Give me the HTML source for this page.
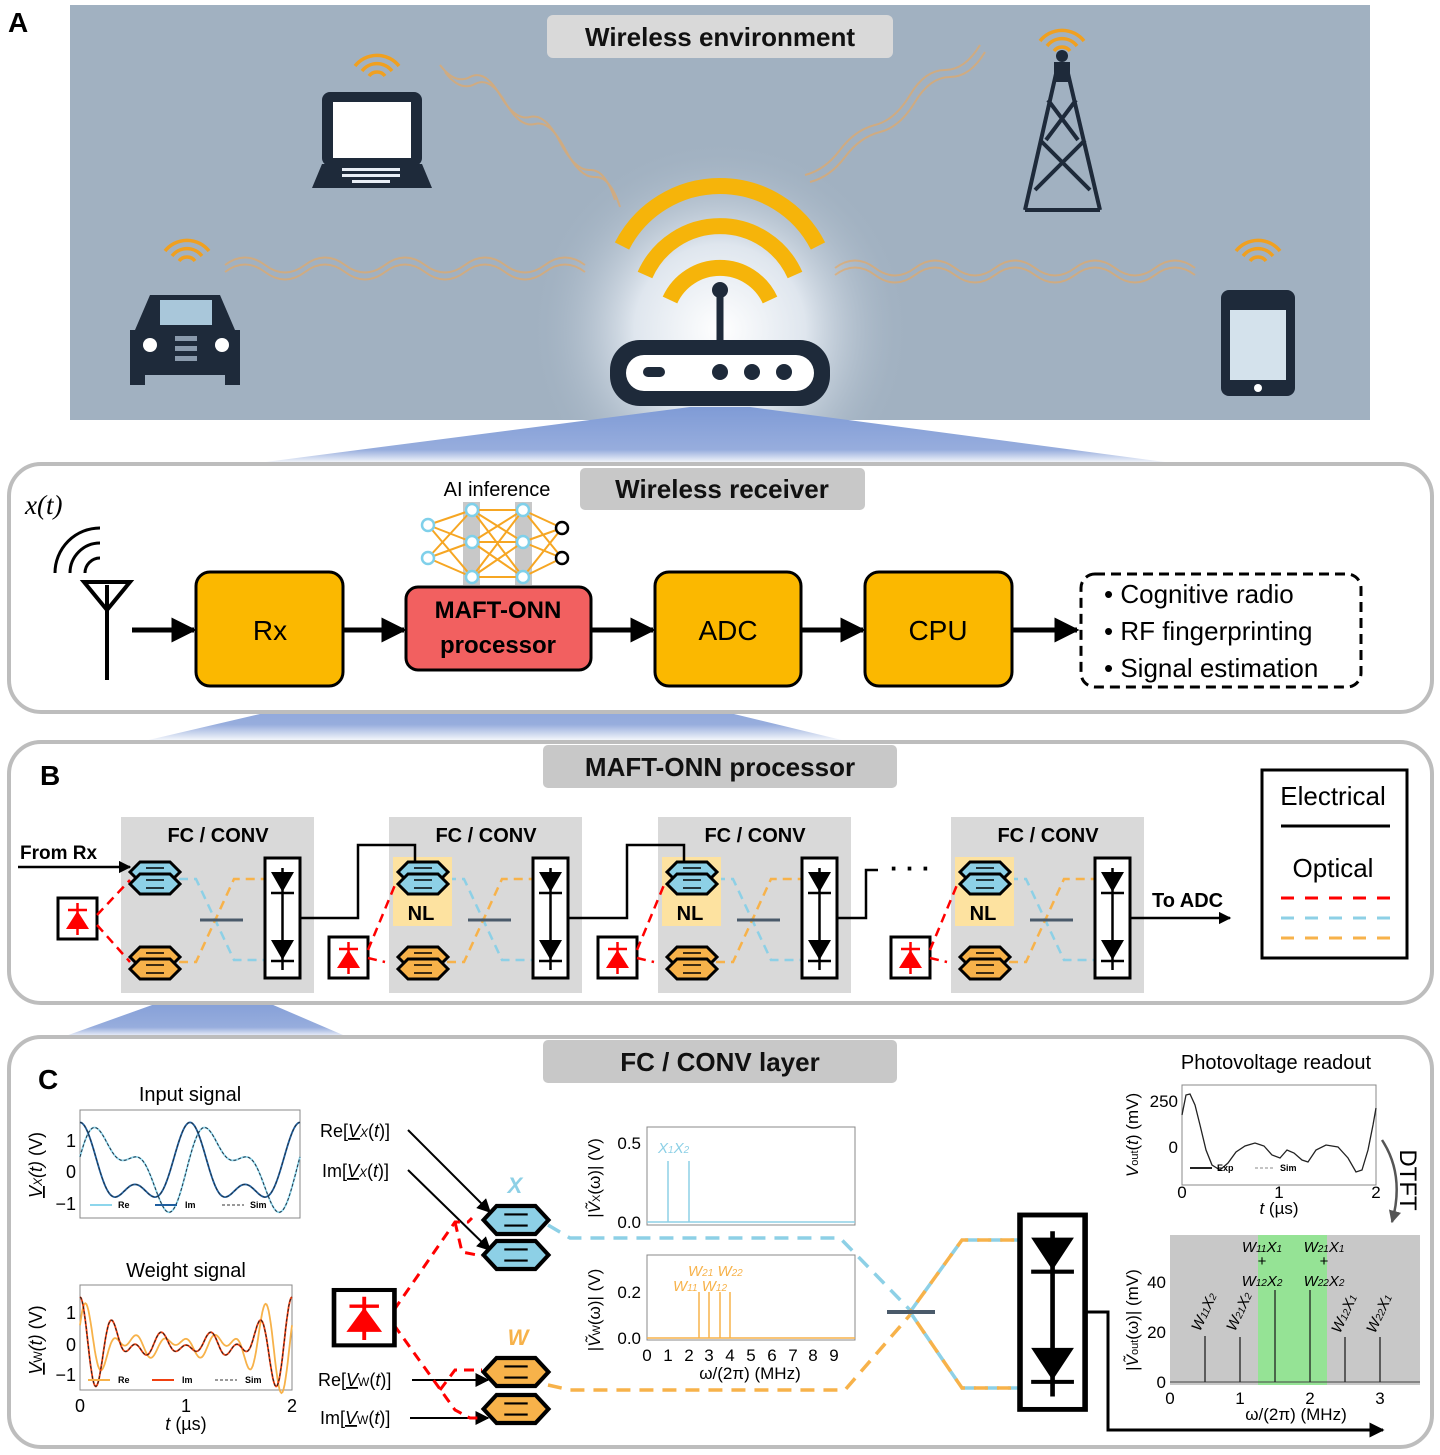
<!DOCTYPE html>
<html><head><meta charset="utf-8"><style>
html,body{margin:0;padding:0;background:#fff;}
svg{display:block;font-family:"Liberation Sans",sans-serif;}
</style></head><body>
<svg id="s" width="1440" height="1455" viewBox="0 0 1440 1455" xmlns="http://www.w3.org/2000/svg">
<defs>
<radialGradient id="glow" cx="720" cy="330" r="190" gradientUnits="userSpaceOnUse">
<stop offset="0" stop-color="#ffffff"/><stop offset="0.45" stop-color="#dfe6ee"/><stop offset="1" stop-color="#a1b1c1" stop-opacity="0"/></radialGradient>
<linearGradient id="tz" x1="0" y1="0" x2="0" y2="1"><stop offset="0" stop-color="#7f9bd6"/><stop offset="0.75" stop-color="#97addd"/><stop offset="1" stop-color="#ffffff"/></linearGradient>
<marker id="ar" viewBox="0 0 10 10" refX="9" refY="5" markerWidth="5" markerHeight="5" orient="auto"><path d="M0,0 L10,5 L0,10 z" fill="#000"/></marker>
<marker id="ars" viewBox="0 0 10 10" refX="9" refY="5" markerWidth="7" markerHeight="7" orient="auto"><path d="M0,0 L10,5 L0,10 z" fill="#000"/></marker>
<marker id="arg" viewBox="0 0 10 10" refX="9" refY="5" markerWidth="5" markerHeight="5" orient="auto"><path d="M0,0 L10,5 L0,10 z" fill="#555"/></marker>
<g id="hb"><polygon points="-25,0 -15,-10 15,-10 25,0 15,10 -15,10" fill="#8dd0e6" stroke="#000" stroke-width="3"/><line x1="-9" y1="-4" x2="9" y2="-4" stroke="#000" stroke-width="1.5"/><line x1="-9" y1="4" x2="9" y2="4" stroke="#000" stroke-width="1.5"/></g>
<g id="ho"><polygon points="-25,0 -15,-10 15,-10 25,0 15,10 -15,10" fill="#f7b24a" stroke="#000" stroke-width="3"/><line x1="-9" y1="-4" x2="9" y2="-4" stroke="#000" stroke-width="1.5"/><line x1="-9" y1="4" x2="9" y2="4" stroke="#000" stroke-width="1.5"/></g>
<g id="diode"><rect x="0" y="0" width="39" height="41" fill="#fff" stroke="#000" stroke-width="3"/><line x1="19.5" y1="5" x2="19.5" y2="37" stroke="#f00" stroke-width="2.5"/><line x1="10" y1="12" x2="29" y2="12" stroke="#f00" stroke-width="2.5"/><polygon points="19.5,13 8,31 31,31" fill="#f00"/></g>
<g id="det"><rect x="0" y="0" width="35" height="120" fill="#fff" stroke="#000" stroke-width="3"/><line x1="17.5" y1="10" x2="17.5" y2="112" stroke="#000" stroke-width="2.5"/><polygon points="6,14 29,14 17.5,34" fill="#000"/><line x1="6" y1="35" x2="29" y2="35" stroke="#000" stroke-width="2.5"/><polygon points="6,82 29,82 17.5,102" fill="#000"/><line x1="6" y1="103" x2="29" y2="103" stroke="#000" stroke-width="2.5"/></g>
<g id="layer">
<rect x="0" y="817" width="193" height="176" fill="#d9d9d9"/>
<text x="97" y="842" font-size="20" font-weight="bold" text-anchor="middle">FC / CONV</text>
<path d="M58,879 L75,879 L113,960 L144,960" fill="none" stroke="#8dd0e6" stroke-width="2.5" stroke-dasharray="9,6"/>
<path d="M58,962 L75,962 L113,879 L144,879" fill="none" stroke="#f7b24a" stroke-width="2.5" stroke-dasharray="9,6"/>
<line x1="79" y1="920" x2="122" y2="920" stroke="#4a5a6a" stroke-width="3"/>
<use href="#hb" x="34" y="872"/><use href="#hb" x="34" y="884"/>
<use href="#ho" x="34" y="957"/><use href="#ho" x="34" y="969"/>
<use href="#det" x="144" y="858"/>
</g>
<g id="nl"><rect x="4" y="857" width="59" height="69" fill="#fde2a0"/></g>
<g id="wifi" fill="none" stroke="#f0a020" stroke-width="3.5"><path d="M-8,-4 A10,10 0 0 1 8,-4"/><path d="M-15,-9 A19,19 0 0 1 15,-9"/><path d="M-22,-14 A28,28 0 0 1 22,-14"/></g>
</defs>

<!-- PANEL A top image -->
<rect x="70" y="5" width="1300" height="415" fill="#a1b1c1"/>
<rect x="70" y="5" width="1300" height="415" fill="url(#glow)"/>
<g fill="none" stroke="#e8a860" stroke-width="2" opacity="0.65">
<path d="M440,65 q15,20 30,12 t30,18 t30,22 t30,25 t30,28 t25,30"/>
<path d="M445,72 q15,20 30,12 t30,18 t30,22 t30,25 t30,28 t25,30"/>
<path d="M805,175 q20,-5 35,-25 t35,-25 t35,-30 t35,-25 t35,-25"/>
<path d="M810,182 q20,-5 35,-25 t35,-25 t35,-30 t35,-25 t35,-25"/>
<path d="M225,265 q20,-15 40,0 t40,0 t40,0 t40,0 t40,0 t40,0 t40,0 t40,0 t40,0"/>
<path d="M225,272 q20,-15 40,0 t40,0 t40,0 t40,0 t40,0 t40,0 t40,0 t40,0 t40,0"/>
<path d="M835,268 q20,-15 40,0 t40,0 t40,0 t40,0 t40,0 t40,0 t40,0 t40,0 t40,0"/>
<path d="M835,275 q20,-15 40,0 t40,0 t40,0 t40,0 t40,0 t40,0 t40,0 t40,0 t40,0"/>
</g>
<rect x="547" y="15" width="346" height="43" rx="6" fill="#d9d9d9"/>
<text x="720" y="46" font-size="26" font-weight="bold" text-anchor="middle" fill="#111">Wireless environment</text>
<!-- laptop -->
<use href="#wifi" x="377" y="80"/>
<rect x="322" y="92" width="100" height="74" rx="8" fill="#1e2a3a"/>
<rect x="333" y="102" width="78" height="56" fill="#fff"/>
<path d="M322,164 L422,164 L432,188 L312,188 Z" fill="#1e2a3a"/>
<rect x="342" y="168" width="58" height="3" fill="#e8eef5"/><rect x="342" y="174" width="58" height="3" fill="#e8eef5"/><rect x="352" y="180" width="38" height="3" fill="#e8eef5"/>
<!-- tower -->
<use href="#wifi" x="1062" y="55"/>
<circle cx="1062" cy="56" r="6" fill="#1e2a3a"/>
<g stroke="#1e2a3a" stroke-width="4" fill="none"><path d="M1058,65 L1025,210 M1066,65 L1100,210 M1040,140 L1090,190 M1085,140 L1035,190 M1048,100 L1078,140 M1076,100 L1046,140 M1025,210 L1100,210"/></g>
<rect x="1054" y="62" width="16" height="20" fill="#1e2a3a"/>
<!-- car -->
<use href="#wifi" x="187" y="265"/>
<path d="M150,295 L220,295 L235,330 L240,330 L240,385 L225,385 L225,375 L145,375 L145,385 L130,385 L130,330 L135,330 Z" fill="#1e2a3a"/>
<rect x="160" y="300" width="52" height="25" fill="#a9c7da"/>
<circle cx="150" cy="345" r="7" fill="#fff"/><circle cx="222" cy="345" r="7" fill="#fff"/>
<rect x="175" y="336" width="22" height="5" fill="#8a9aac"/><rect x="175" y="346" width="22" height="5" fill="#8a9aac"/><rect x="175" y="356" width="22" height="5" fill="#8a9aac"/>
<!-- phone -->
<use href="#wifi" x="1258" y="265"/>
<rect x="1221" y="290" width="74" height="106" rx="8" fill="#1e2a3a"/>
<rect x="1230" y="310" width="56" height="70" fill="#d4e2ec"/>
<circle cx="1258" cy="388" r="4" fill="#fff"/>
<!-- router -->
<g fill="none" stroke="#f6b40a" stroke-width="16" stroke-linecap="butt">
<path d="M622,246 A110,110 0 0 1 818,246"/>
<path d="M645,275 A82,82 0 0 1 795,275"/>
<path d="M670,300 A55,55 0 0 1 770,300"/>
</g>
<line x1="720" y1="290" x2="720" y2="345" stroke="#1e2a3a" stroke-width="7"/>
<circle cx="720" cy="290" r="8" fill="#1e2a3a"/>
<rect x="610" y="340" width="220" height="66" rx="30" fill="#1e2a3a"/>
<rect x="626" y="355" width="188" height="36" rx="18" fill="#fff"/>
<rect x="643" y="367" width="22" height="10" rx="5" fill="#1e2a3a"/>
<circle cx="720" cy="372" r="8" fill="#1e2a3a"/><circle cx="752" cy="372" r="8" fill="#1e2a3a"/><circle cx="784" cy="372" r="8" fill="#1e2a3a"/>
<text x="8" y="32" font-size="28" font-weight="bold">A</text>

<!-- trapezoids -->
<polygon points="690,407 750,407 1180,464 250,464" fill="url(#tz)"/>
<polygon points="440,672 560,672 850,742 140,742" fill="url(#tz)"/>
<polygon points="180,995 250,995 350,1038 60,1038" fill="url(#tz)"/>

<!-- Wireless receiver panel -->
<rect x="9" y="464" width="1423" height="248" rx="32" fill="#fff" stroke="#bdbdbd" stroke-width="4"/>
<rect x="580" y="468" width="285" height="42" rx="5" fill="#c8c8c8"/>
<text x="722" y="498" font-size="26" font-weight="bold" text-anchor="middle" fill="#111">Wireless receiver</text>
<text x="25" y="514" font-size="27" font-style="italic" font-family="Liberation Serif,serif">x(t)</text>
<g fill="none" stroke="#000" stroke-width="3">
<path d="M85,573 A15,15 0 0 1 100,558"/><path d="M70,573 A30,30 0 0 1 100,543"/><path d="M55,573 A45,45 0 0 1 100,528"/>
</g>
<line x1="107" y1="585" x2="107" y2="680" stroke="#000" stroke-width="4"/>
<path d="M84,582 L130,582 L107,610 Z" fill="none" stroke="#000" stroke-width="4"/>
<g stroke="#000" stroke-width="5" marker-end="url(#ar)">
<line x1="132" y1="630" x2="194" y2="630"/><line x1="343" y1="630" x2="404" y2="630"/><line x1="591" y1="630" x2="653" y2="630"/><line x1="801" y1="630" x2="863" y2="630"/><line x1="1012" y1="630" x2="1077" y2="630"/>
</g>
<rect x="196" y="572" width="147" height="114" rx="14" fill="#fbb800" stroke="#000" stroke-width="3"/>
<text x="270" y="640" font-size="28" text-anchor="middle">Rx</text>
<rect x="406" y="587" width="185" height="83" rx="12" fill="#f26060" stroke="#000" stroke-width="3"/>
<text x="498" y="618" font-size="24" font-weight="bold" text-anchor="middle">MAFT-ONN</text>
<text x="498" y="653" font-size="24" font-weight="bold" text-anchor="middle">processor</text>
<rect x="655" y="572" width="146" height="114" rx="14" fill="#fbb800" stroke="#000" stroke-width="3"/>
<text x="728" y="640" font-size="28" text-anchor="middle">ADC</text>
<rect x="865" y="572" width="147" height="114" rx="14" fill="#fbb800" stroke="#000" stroke-width="3"/>
<text x="938" y="640" font-size="28" text-anchor="middle">CPU</text>
<rect x="1081" y="574" width="280" height="113" rx="14" fill="#fff" stroke="#000" stroke-width="3" stroke-dasharray="10,6"/>
<g font-size="26"><text x="1104" y="603">• Cognitive radio</text><text x="1104" y="640">• RF fingerprinting</text><text x="1104" y="677">• Signal estimation</text></g>
<!-- NN -->
<text x="497" y="496" font-size="20" text-anchor="middle">AI inference</text>
<rect x="463" y="502" width="17" height="83" fill="#c8c8c8"/><rect x="515" y="502" width="17" height="83" fill="#c8c8c8"/>
<g id="nn" stroke="#f6a623" stroke-width="2"></g>
<g id="nnodes"></g>

<!-- Panel B -->
<rect x="9" y="742" width="1423" height="261" rx="32" fill="#fff" stroke="#bdbdbd" stroke-width="4"/>
<rect x="543" y="745" width="354" height="43" rx="5" fill="#c8c8c8"/>
<text x="720" y="776" font-size="26" font-weight="bold" text-anchor="middle" fill="#111">MAFT-ONN processor</text>
<text x="40" y="785" font-size="28" font-weight="bold">B</text>
<use href="#layer" x="121"/>
<use href="#layer" x="389"/><use href="#layer" x="658"/><use href="#layer" x="951"/>
<g fill="#fde2a0"><rect x="393" y="857" width="59" height="69"/><rect x="662" y="857" width="59" height="69"/><rect x="955" y="857" width="59" height="69"/></g>
<use href="#hb" x="423" y="872"/><use href="#hb" x="423" y="884"/>
<use href="#hb" x="692" y="872"/><use href="#hb" x="692" y="884"/>
<use href="#hb" x="985" y="872"/><use href="#hb" x="985" y="884"/>
<g font-size="20" font-weight="bold" text-anchor="middle"><text x="421" y="920">NL</text><text x="690" y="920">NL</text><text x="983" y="920">NL</text></g>
<text x="20" y="859" font-size="19" font-weight="bold">From Rx</text>
<line x1="18" y1="867" x2="130" y2="867" stroke="#000" stroke-width="2.5" marker-end="url(#ar)"/>
<use href="#diode" x="58" y="898"/>
<use href="#diode" x="329" y="937"/><use href="#diode" x="598" y="937"/><use href="#diode" x="891" y="937"/>
<g fill="none" stroke="#f00" stroke-width="2.5" stroke-dasharray="9,6">
<path d="M97,915 L130,880"/><path d="M97,925 L130,962"/>
<path d="M368,958 L385,962"/><path d="M368,950 L395,885"/>
<path d="M637,958 L654,962"/><path d="M637,950 L664,885"/>
<path d="M930,958 L947,962"/><path d="M930,950 L957,885"/>
</g>
<g fill="none" stroke="#000" stroke-width="2.5">
<path d="M300,918 L358,918 L358,845 L415,845 L415,862"/>
<path d="M568,918 L627,918 L627,845 L684,845 L684,862"/>
<path d="M837,918 L866,918 L866,870 L878,870"/>
</g>
<text x="890" y="877" font-size="26" font-weight="bold">· · ·</text>
<line x1="1130" y1="918" x2="1230" y2="918" stroke="#000" stroke-width="2.5" marker-end="url(#ar)"/>
<text x="1152" y="907" font-size="20" font-weight="bold">To ADC</text>
<rect x="1262" y="770" width="145" height="188" fill="#fff" stroke="#000" stroke-width="3"/>
<text x="1333" y="805" font-size="26" text-anchor="middle">Electrical</text>
<line x1="1281" y1="826" x2="1390" y2="826" stroke="#000" stroke-width="3"/>
<text x="1333" y="877" font-size="26" text-anchor="middle">Optical</text>
<g stroke-width="3" stroke-dasharray="13,11"><line x1="1281" y1="898" x2="1392" y2="898" stroke="#f00"/><line x1="1281" y1="918" x2="1392" y2="918" stroke="#8dd0e6"/><line x1="1281" y1="938" x2="1392" y2="938" stroke="#f7b24a"/></g>

<!-- Panel C -->
<rect x="9" y="1037" width="1423" height="410" rx="32" fill="#fff" stroke="#bdbdbd" stroke-width="4"/>
<rect x="543" y="1040" width="354" height="43" rx="5" fill="#c8c8c8"/>
<text x="720" y="1071" font-size="26" font-weight="bold" text-anchor="middle" fill="#111">FC / CONV layer</text>
<text x="38" y="1089" font-size="28" font-weight="bold">C</text>

<!-- input plot -->
<text x="190" y="1101" font-size="20" text-anchor="middle">Input signal</text>
<rect x="80" y="1110" width="220" height="108" fill="#fff" stroke="#888" stroke-width="1"/>
<g id="p1"></g>
<g font-size="18" text-anchor="end"><text x="76" y="1147">1</text><text x="76" y="1178">0</text><text x="76" y="1210">−1</text></g>
<g font-size="9" font-weight="bold"><line x1="90" y1="1205" x2="112" y2="1205" stroke="#8dd6ec" stroke-width="2"/><text x="118" y="1208">Re</text><line x1="155" y1="1205" x2="177" y2="1205" stroke="#1f5f9f" stroke-width="2"/><text x="185" y="1208">Im</text><line x1="222" y1="1205" x2="244" y2="1205" stroke="#333" stroke-dasharray="3,2"/><text x="250" y="1208">Sim</text></g>
<text transform="translate(42,1165) rotate(-90)" font-size="18" text-anchor="middle"><tspan font-style="italic" text-decoration="underline">V</tspan><tspan font-size="12" font-style="italic">X</tspan><tspan font-style="italic">(t)</tspan>   (V)</text>
<!-- weight plot -->
<text x="186" y="1277" font-size="20" text-anchor="middle">Weight signal</text>
<rect x="80" y="1285" width="212" height="105" fill="#fff" stroke="#888" stroke-width="1"/>
<g id="p2"></g>
<g font-size="18" text-anchor="end"><text x="76" y="1319">1</text><text x="76" y="1351">0</text><text x="76" y="1381">−1</text></g>
<g font-size="18" text-anchor="middle"><text x="80" y="1412">0</text><text x="186" y="1412">1</text><text x="292" y="1412">2</text></g>
<text x="186" y="1430" font-size="18" text-anchor="middle"><tspan font-style="italic">t</tspan> (µs)</text>
<g font-size="9" font-weight="bold"><line x1="88" y1="1380" x2="110" y2="1380" stroke="#f7b24a" stroke-width="2"/><text x="118" y="1383">Re</text><line x1="152" y1="1380" x2="174" y2="1380" stroke="#f04010" stroke-width="2"/><text x="182" y="1383">Im</text><line x1="215" y1="1380" x2="237" y2="1380" stroke="#333" stroke-dasharray="3,2"/><text x="245" y="1383">Sim</text></g>
<text transform="translate(42,1340) rotate(-90)" font-size="18" text-anchor="middle"><tspan font-style="italic" text-decoration="underline">V</tspan><tspan font-size="12">W</tspan><tspan font-style="italic">(t)</tspan>   (V)</text>

<!-- modulator section -->
<g font-size="18"><text x="320" y="1137">Re[<tspan font-style="italic" text-decoration="underline">V</tspan><tspan font-size="12" font-style="italic">X</tspan>(<tspan font-style="italic">t</tspan>)]</text>
<text x="322" y="1177">Im[<tspan font-style="italic" text-decoration="underline">V</tspan><tspan font-size="12" font-style="italic">X</tspan>(<tspan font-style="italic">t</tspan>)]</text>
<text x="318" y="1386">Re[<tspan font-style="italic" text-decoration="underline">V</tspan><tspan font-size="12">W</tspan>(<tspan font-style="italic">t</tspan>)]</text>
<text x="320" y="1424">Im[<tspan font-style="italic" text-decoration="underline">V</tspan><tspan font-size="12">W</tspan>(<tspan font-style="italic">t</tspan>)]</text></g>
<g stroke="#000" stroke-width="2" marker-end="url(#ars)">
<line x1="408" y1="1130" x2="490" y2="1212"/><line x1="408" y1="1170" x2="490" y2="1250"/>
<line x1="412" y1="1380" x2="488" y2="1380"/><line x1="410" y1="1418" x2="488" y2="1418"/></g>
<text x="515" y="1193" font-size="22" font-weight="bold" font-style="italic" fill="#8dd0e6" text-anchor="middle">X</text>
<text x="518" y="1345" font-size="22" font-weight="bold" font-style="italic" fill="#f7b24a" text-anchor="middle">W</text>
<g fill="none" stroke="#f00" stroke-width="3" stroke-dasharray="10,7">
<path d="M394,1310 L455,1222 L468,1222 L472,1218"/><path d="M455,1222 L462,1252 L482,1256"/>
<path d="M394,1325 L455,1410 L470,1418 L482,1418"/><path d="M440,1390 L455,1370 L482,1370"/></g>
<use href="#diode" transform="translate(334,1290) scale(1.55,1.35)"/>
<g fill="none" stroke-width="3.5" stroke-dasharray="14,9">
<path d="M548,1225 L570,1238 L840,1238 L910,1310" stroke="#8dd0e6"/>
<path d="M548,1385 L570,1390 L845,1390 L910,1315" stroke="#f7b24a"/>
<path d="M910,1312 L962,1240 L1020,1240" stroke="#8dd0e6"/>
<path d="M910,1312 L962,1240 L1020,1240" stroke="#f7b24a" stroke-dashoffset="11"/>
<path d="M910,1312 L962,1388 L1020,1388" stroke="#8dd0e6"/>
<path d="M910,1312 L962,1388 L1020,1388" stroke="#f7b24a" stroke-dashoffset="11"/>
</g>
<line x1="887" y1="1312" x2="935" y2="1312" stroke="#4a5a6a" stroke-width="4"/>
<use href="#hb" transform="translate(516,1220) scale(1.3,1.4)"/><use href="#hb" transform="translate(516,1255) scale(1.3,1.4)"/>
<use href="#ho" transform="translate(516,1372) scale(1.3,1.4)"/><use href="#ho" transform="translate(516,1409) scale(1.3,1.4)"/>
<use href="#det" transform="translate(1020,1215) scale(1.86,1.62)"/>
<path d="M1085,1312 L1108,1312 L1108,1430 L1383,1430" fill="none" stroke="#000" stroke-width="3" marker-end="url(#ar)"/>

<!-- spectrum X -->
<rect x="647" y="1127" width="208" height="98" fill="#fff" stroke="#888"/>
<line x1="647" y1="1222" x2="855" y2="1222" stroke="#8dd0e6" stroke-width="1.5"/>
<line x1="668" y1="1222" x2="668" y2="1161" stroke="#8dd0e6" stroke-width="1.5"/><line x1="689" y1="1222" x2="689" y2="1161" stroke="#8dd0e6" stroke-width="1.5"/>
<text x="658" y="1153" font-size="15" font-style="italic" fill="#8dd0e6">X<tspan font-size="10">1</tspan>X<tspan font-size="10">2</tspan></text>
<g font-size="17" text-anchor="end"><text x="641" y="1149">0.5</text><text x="641" y="1228">0.0</text></g>
<text transform="translate(600,1178) rotate(-90)" font-size="17" text-anchor="middle">|<tspan font-style="italic">Ṽ</tspan><tspan font-size="11">X</tspan>(ω)|   (V)</text>
<!-- spectrum W -->
<rect x="647" y="1255" width="208" height="85" fill="#fff" stroke="#888"/>
<line x1="647" y1="1338" x2="855" y2="1338" stroke="#f7b24a" stroke-width="1.5"/>
<g stroke="#f7b24a" stroke-width="1.5"><line x1="699" y1="1338" x2="699" y2="1292"/><line x1="709" y1="1338" x2="709" y2="1292"/><line x1="720" y1="1338" x2="720" y2="1292"/><line x1="730" y1="1338" x2="730" y2="1292"/></g>
<g font-size="15" font-style="italic" fill="#f7b24a"><text x="688" y="1276">W<tspan font-size="10">21</tspan> W<tspan font-size="10">22</tspan></text><text x="673" y="1291">W<tspan font-size="10">11</tspan> W<tspan font-size="10">12</tspan></text></g>
<g font-size="17" text-anchor="end"><text x="641" y="1298">0.2</text><text x="641" y="1344">0.0</text></g>
<text transform="translate(600,1310) rotate(-90)" font-size="17" text-anchor="middle">|<tspan font-style="italic">Ṽ</tspan><tspan font-size="11">W</tspan>(ω)|   (V)</text>
<g font-size="17" text-anchor="middle"><text x="647" y="1361">0</text><text x="668" y="1361">1</text><text x="689" y="1361">2</text><text x="709" y="1361">3</text><text x="730" y="1361">4</text><text x="751" y="1361">5</text><text x="772" y="1361">6</text><text x="793" y="1361">7</text><text x="813" y="1361">8</text><text x="834" y="1361">9</text></g>
<text x="750" y="1379" font-size="17" text-anchor="middle">ω/(2π) (MHz)</text>

<!-- photovoltage -->
<text x="1276" y="1069" font-size="20" text-anchor="middle">Photovoltage readout</text>
<rect x="1182" y="1085" width="194" height="100" fill="#fff" stroke="#888"/>
<polyline fill="none" stroke="#222" stroke-width="1.3" points="1182,1115 1186,1095 1190,1094 1195,1105 1200,1125 1206,1150 1212,1165 1220,1170 1228,1163 1236,1152 1245,1146 1255,1143 1264,1146 1272,1155 1280,1158 1287,1150 1294,1153 1302,1160 1308,1162 1316,1150 1326,1145 1338,1147 1348,1158 1356,1172 1362,1170 1368,1150 1373,1125 1376,1108"/>
<g font-size="9" font-weight="bold"><line x1="1190" y1="1168" x2="1212" y2="1168" stroke="#222" stroke-width="2"/><text x="1217" y="1171">Exp</text><line x1="1255" y1="1168" x2="1275" y2="1168" stroke="#888" stroke-dasharray="3,2"/><text x="1280" y="1171">Sim</text></g>
<g font-size="17" text-anchor="end"><text x="1178" y="1107">250</text><text x="1178" y="1153">0</text></g>
<g font-size="17" text-anchor="middle"><text x="1182" y="1198">0</text><text x="1279" y="1198">1</text><text x="1376" y="1198">2</text></g>
<text x="1279" y="1214" font-size="17" text-anchor="middle"><tspan font-style="italic">t</tspan> (µs)</text>
<text transform="translate(1138,1135) rotate(-90)" font-size="17" text-anchor="middle"><tspan font-style="italic">V</tspan><tspan font-size="11">out</tspan>(<tspan font-style="italic">t</tspan>)   (mV)</text>
<path d="M1382,1140 Q1405,1175 1392,1222" fill="none" stroke="#555" stroke-width="2.5" marker-end="url(#arg)"/>
<text transform="translate(1400,1180) rotate(90)" font-size="24" text-anchor="middle">DTFT</text>
<!-- output spectrum -->
<rect x="1170" y="1235" width="250" height="150" fill="#c8c8c8"/>
<rect x="1258" y="1235" width="69" height="150" fill="#95e395"/>
<line x1="1170" y1="1382" x2="1420" y2="1382" stroke="#444"/>
<g stroke="#222" stroke-width="1.3"><line x1="1205" y1="1382" x2="1205" y2="1336"/><line x1="1240" y1="1382" x2="1240" y2="1337"/><line x1="1275" y1="1382" x2="1275" y2="1290"/><line x1="1310" y1="1382" x2="1310" y2="1290"/><line x1="1345" y1="1382" x2="1345" y2="1337"/><line x1="1380" y1="1382" x2="1380" y2="1337"/></g>
<g font-size="15" font-style="italic" text-anchor="middle"><text x="1262" y="1252">W<tspan font-size="10">11</tspan>X<tspan font-size="10">1</tspan></text><text x="1262" y="1266" font-style="normal">+</text><text x="1262" y="1286">W<tspan font-size="10">12</tspan>X<tspan font-size="10">2</tspan></text>
<text x="1324" y="1252">W<tspan font-size="10">21</tspan>X<tspan font-size="10">1</tspan></text><text x="1324" y="1266" font-style="normal">+</text><text x="1324" y="1286">W<tspan font-size="10">22</tspan>X<tspan font-size="10">2</tspan></text></g>
<g font-size="15" font-style="italic"><text transform="translate(1200,1332) rotate(-65)">W<tspan font-size="10">11</tspan>X<tspan font-size="10">2</tspan></text><text transform="translate(1235,1332) rotate(-65)">W<tspan font-size="10">21</tspan>X<tspan font-size="10">2</tspan></text><text transform="translate(1340,1334) rotate(-65)">W<tspan font-size="10">12</tspan>X<tspan font-size="10">1</tspan></text><text transform="translate(1375,1334) rotate(-65)">W<tspan font-size="10">22</tspan>X<tspan font-size="10">1</tspan></text></g>
<g font-size="17" text-anchor="end"><text x="1166" y="1288">40</text><text x="1166" y="1338">20</text><text x="1166" y="1388">0</text></g>
<g font-size="17" text-anchor="middle"><text x="1170" y="1404">0</text><text x="1240" y="1404">1</text><text x="1310" y="1404">2</text><text x="1380" y="1404">3</text></g>
<text x="1296" y="1420" font-size="17" text-anchor="middle">ω/(2π) (MHz)</text>
<text transform="translate(1138,1320) rotate(-90)" font-size="17" text-anchor="middle">|<tspan font-style="italic">Ṽ</tspan><tspan font-size="11">out</tspan>(ω)|   (mV)</text>
</svg>
<script>
(function(){
var NS="http://www.w3.org/2000/svg";
function el(p,t,a){var e=document.createElementNS(NS,t);for(var k in a)e.setAttribute(k,a[k]);p.appendChild(e);return e;}
var nn=document.getElementById("nn"),nd=document.getElementById("nnodes");
var L=[[[428,525],[428,558]],[[472,510],[472,542],[472,577]],[[523,510],[523,542],[523,577]],[[562,528],[562,558]]];
for(var i=0;i<3;i++)L[i].forEach(function(a){L[i+1].forEach(function(b){el(nn,"line",{x1:a[0],y1:a[1],x2:b[0],y2:b[1]});});});
L.forEach(function(l,i){l.forEach(function(p){el(nd,"circle",{cx:p[0],cy:p[1],r:6,fill:"#fff",stroke:i==3?"#000":"#7fd0ea","stroke-width":2.5});});});
function curve(g,f,x0,w,y0,s,col,dash){var pts=[];for(var k=0;k<=200;k++){var t=2*k/200;var v=f(t);pts.push((x0+w*t/2).toFixed(1)+","+(y0-s*v).toFixed(1));}var a={points:pts.join(" "),fill:"none",stroke:col,"stroke-width":dash?1:1.8};if(dash)a["stroke-dasharray"]="3,2";el(g,"polyline",a);}
var P=Math.PI;
var p1=document.getElementById("p1");
var fi=function(t){return Math.cos(2*P*t)+0.6*Math.cos(4*P*t);};
var fr=function(t){return Math.sin(2*P*t)*1.0+0.6*Math.sin(4*P*t+0.5)+0.2;};
curve(p1,fr,80,220,1172,31,"#8dd6ec");curve(p1,fi,80,220,1172,31,"#1f5f9f");
curve(p1,fr,80,220,1172,31,"#234",1);curve(p1,fi,80,220,1172,31,"#234",1);
var p2=document.getElementById("p2");
var fw=function(t){var s=0;[2.5,3,3.5,4].forEach(function(f){s+=0.4*Math.cos(2*P*f*t);});return s;};
var fw2=function(t){var s=0;[2.5,3,3.5,4].forEach(function(f,i){s+=0.4*Math.sin(2*P*f*t+0.3*i);});return s;};
curve(p2,fw2,80,212,1345,30,"#f7b24a");curve(p2,fw,80,212,1345,30,"#f04010");
curve(p2,fw,80,212,1345,30,"#222",1);
})();
</script>
</body></html>
